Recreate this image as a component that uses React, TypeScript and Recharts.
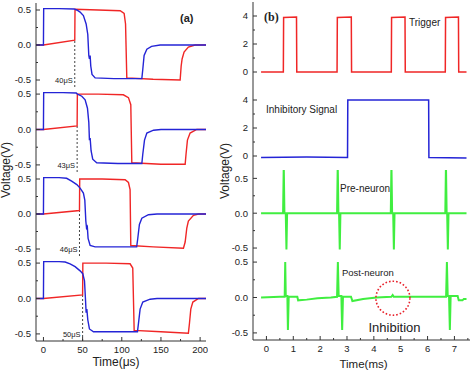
import React from 'react'
import { LineChart, Line, XAxis, YAxis, ReferenceLine, ReferenceDot } from 'recharts'

const FONT = '"Liberation Sans", Arial, Helvetica, sans-serif'
const AXIS = '#333'
const RED = '#f02626'
const BLUE = '#2424d6'
const GREEN = '#40ee40'

type P = [number, number]

// ---------- (a): time in µs, voltage in V ----------
const usMajor = [0, 50, 100, 150, 200]
const usMinor = [25, 75, 125, 175]
const aMajor = [-0.5, 0, 0.5]
const aMinor = [-0.25, 0.25]
const delays = [40, 43, 46, 50]

const blue40: P[] = [[-10, 0], [0, 0], [0.3, 0.52], [20, 0.52], [39, 0.515], [42.6, 0.5], [46.8, 0.47], [51, 0.42], [54.5, 0.3], [56.6, 0.15], [57.9, -0.15], [58.7, -0.2], [59.6, -0.15], [60.4, -0.3], [62, -0.42], [66, -0.47], [90, -0.48], [125.6, -0.48], [126.8, -0.35], [128.5, -0.15], [132, -0.06], [138, -0.02], [149, 0], [210, 0]]
const red40: P[] = [[-10, 0], [0, 0], [40, 0.07], [40.3, 0.51], [70, 0.5], [98, 0.49], [103, 0.45], [104.8, 0.3], [106.4, -0.47], [140, -0.49], [174.5, -0.5], [175.8, -0.3], [177, -0.2], [179.5, -0.1], [185, -0.03], [193.6, 0], [210, 0]]

const blue43: P[] = [[-10, 0], [0, 0], [0.3, 0.52], [25, 0.52], [41.8, 0.515], [43.4, 0.5], [49, 0.47], [53.2, 0.42], [56.2, 0.3], [57.9, 0.1], [58.7, -0.15], [59.6, -0.12], [60.8, -0.3], [62.9, -0.42], [68, -0.47], [95, -0.48], [125.6, -0.48], [126.8, -0.35], [129, -0.15], [132, -0.05], [140.5, -0.01], [150, 0], [210, 0]]
const red43: P[] = [[-10, 0], [0, 0], [43, 0.05], [43.3, 0.5], [70, 0.5], [102, 0.49], [108.5, 0.45], [111.5, 0.35], [112.8, -0.47], [150, -0.49], [180.9, -0.49], [182, -0.35], [183.8, -0.15], [187.2, -0.05], [195.7, 0], [210, 0]]

const blue46: P[] = [[-10, 0], [0, 0], [0.3, 0.52], [20, 0.52], [29.6, 0.51], [36, 0.47], [42.6, 0.42], [46.8, 0.37], [51, 0.3], [52.8, 0.2], [54.1, -0.1], [55, -0.2], [56, -0.18], [57, -0.35], [59.6, -0.45], [66, -0.47], [119, -0.47], [120.4, -0.35], [122.5, -0.15], [125.6, -0.06], [134, -0.01], [145, 0], [210, 0]]
const red46: P[] = [[-10, 0], [0, 0], [46, 0.05], [46.3, 0.5], [75, 0.5], [104.3, 0.49], [108.5, 0.45], [110.6, 0.35], [111.5, -0.45], [140, -0.47], [178.7, -0.49], [180.9, -0.4], [183, -0.2], [185, -0.1], [191.5, -0.02], [198, 0], [210, 0]]

const blue50: P[] = [[-10, 0], [0, 0], [0.3, 0.52], [20, 0.52], [27.7, 0.515], [34, 0.49], [40.4, 0.45], [46.8, 0.39], [50.2, 0.35], [52.4, 0.25], [53.6, 0], [54.5, -0.2], [55.4, -0.15], [56.6, -0.3], [58.7, -0.43], [63.9, -0.47], [120, -0.47], [121.3, -0.35], [123.4, -0.15], [126.8, -0.05], [136.2, -0.01], [145, 0], [210, 0]]
const red50: P[] = [[-10, 0], [0, 0], [50, 0.05], [50.3, 0.5], [80, 0.5], [110.6, 0.49], [114, 0.43], [115.8, -0.45], [150, -0.47], [185, -0.49], [186.4, -0.35], [188.1, -0.15], [190.7, -0.05], [198, 0], [210, 0]]

const blueA = [blue40, blue43, blue46, blue50]
const redA = [red40, red43, red46, red50]

// ---------- (b): time in ms ----------
const msMajor = [0, 1, 2, 3, 4, 5, 6, 7]
const msMinor = [0.5, 1.5, 2.5, 3.5, 4.5, 5.5, 6.5, 7.5]
const sigMajor = [0, 2, 4]
const sigMinor = [1, 3]
const spkMajor = [-0.5, 0, 0.5]
const spkMinor = [-0.25, 0.25]

const trigger: P[] = [[-0.2, 0], [0.63, 0], [0.64, 3.9], [1.12, 3.92], [1.13, 0], [2.63, 0], [2.64, 3.9], [3.16, 3.92], [3.17, 0], [4.65, 0], [4.66, 3.9], [5.16, 3.92], [5.17, 0], [6.66, 0], [6.67, 3.9], [7.15, 3.92], [7.16, 0], [7.45, 0]]
const inhibit: P[] = [[-0.2, -0.1], [1.5, -0.08], [3.02, -0.1], [3.03, 4.0], [6.04, 4.0], [6.05, -0.1], [7.45, -0.14]]
const preNeuron: P[] = [[-0.2, 0], [0.62, 0], [0.645, 0.7], [0.67, 0], [0.72, 0], [0.745, -0.52], [0.77, 0], [2.63, 0], [2.655, 0.7], [2.68, 0], [2.705, 0], [2.73, -0.52], [2.755, 0], [4.63, 0], [4.655, 0.7], [4.68, 0], [4.72, 0], [4.745, -0.52], [4.77, 0], [6.66, 0], [6.685, 0.7], [6.71, 0], [6.73, 0], [6.755, -0.52], [6.78, 0], [7.45, 0]]
const postNeuron: P[] = [[-0.2, 0], [0.5, 0.01], [0.68, 0.01], [0.7, 0.5], [0.72, 0.02], [0.78, 0.02], [0.8, -0.46], [0.83, 0.01], [1.15, 0.01], [1.18, -0.04], [1.5, -0.03], [1.9, -0.01], [2.4, 0], [2.63, 0.01], [2.66, 0.5], [2.69, 0.02], [2.79, 0.02], [2.82, -0.46], [2.85, 0.01], [3.15, 0.01], [3.2, -0.05], [3.6, -0.02], [4.1, 0], [4.65, 0.01], [4.7, 0.035], [4.74, 0.01], [6.69, 0.01], [6.72, 0.5], [6.75, 0.02], [6.8, 0.02], [6.83, -0.46], [6.86, 0.02], [7.12, 0.02], [7.16, -0.04], [7.3, -0.04], [7.35, -0.02], [7.45, -0.02]]

const pts = (a: P[]) => a.map(([t, v]) => ({ t, v }))

type Side = 'bottom' | 'top' | 'left' | 'right'

// inward ticks, long for majors, short for minors
const tickFn = (side: Side, major: number[], fmt?: (v: number) => string) => (p: any) => {
  const v = p.payload.value
  const isMajor = major.some((m) => Math.abs(m - v) < 1e-9)
  const len = isMajor ? 4 : 2
  const { x, y } = p
  let x2 = x, y2 = y
  if (side === 'bottom') y2 = y - len
  if (side === 'top') y2 = y + len
  if (side === 'left') x2 = x + len
  if (side === 'right') x2 = x - len
  return (
    <g>
      <line x1={x} y1={y} x2={x2} y2={y2} stroke={AXIS} strokeWidth={1} />
      {fmt && isMajor && side === 'bottom' && (
        <text x={x} y={y + 9} dy="0.35em" textAnchor="middle" fontSize={9.5} fontFamily={FONT} fill="#222">{fmt(v)}</text>
      )}
      {fmt && isMajor && side === 'left' && (
        <text x={x - 5} y={y} dy="0.35em" textAnchor="end" fontSize={9.5} fontFamily={FONT} fill="#222">{fmt(v)}</text>
      )}
    </g>
  )
}

type PanelProps = {
  box: [number, number, number, number]
  xDomain: [number, number]
  yDomain: [number, number]
  xMaj: number[]
  xMin: number[]
  yMaj: number[]
  yMin: number[]
  yFmt: (v: number) => string
  xLabels?: boolean
  yw: number
  children?: React.ReactNode
}

function Panel({ box, xDomain, yDomain, xMaj, xMin, yMaj, yMin, yFmt, xLabels, yw, children }: PanelProps) {
  const [x0, y0, x1, y1] = box
  const xh = xLabels ? 18 : 0
  const xt = [...xMaj, ...xMin]
  const yt = [...yMaj, ...yMin]
  return (
    <div style={{ position: 'absolute', left: x0 - yw, top: y0 - 2 }}>
      <LineChart width={yw + (x1 - x0) + 2} height={2 + (y1 - y0) + xh} margin={{ top: 2, right: 2, bottom: 0, left: 0 }}>
        <XAxis type="number" dataKey="t" domain={xDomain} allowDataOverflow ticks={xt} interval={0} height={xh}
          tickSize={0} tickMargin={0} tickLine={false} axisLine={{ stroke: AXIS }}
          tick={tickFn('bottom', xMaj, xLabels ? (v) => String(v) : undefined)} />
        <XAxis xAxisId="top" orientation="top" type="number" dataKey="t" domain={xDomain} allowDataOverflow ticks={xt} interval={0} height={0}
          tickSize={0} tickMargin={0} tickLine={false} axisLine={{ stroke: AXIS }} tick={tickFn('top', xMaj)} />
        <YAxis type="number" dataKey="v" domain={yDomain} allowDataOverflow ticks={yt} interval={0} width={yw}
          tickSize={0} tickMargin={0} tickLine={false} axisLine={{ stroke: AXIS }} tick={tickFn('left', yMaj, yFmt)} />
        <YAxis yAxisId="right" orientation="right" type="number" dataKey="v" domain={yDomain} allowDataOverflow ticks={yt} interval={0} width={0}
          tickSize={0} tickMargin={0} tickLine={false} axisLine={{ stroke: AXIS }} tick={tickFn('right', yMaj)} />
        {children}
      </LineChart>
    </div>
  )
}

const aBoxes: [number, number, number, number][] = [[36, 3, 206, 87], [36, 87, 206, 172], [36, 172, 206, 256], [36, 256, 206, 341]]
const bBoxes: [number, number, number, number][] = [[253, 2, 470, 86], [253, 86, 470, 170], [253, 170, 470, 255], [253, 255, 470, 340]]

const fmt1 = (v: number) => v.toFixed(1)
const fmt0 = (v: number) => String(v)

export default function App() {
  return (
    <div style={{ position: 'absolute', left: 0, top: 0, width: 474, height: 370, background: '#fff', overflow: 'hidden', fontFamily: FONT }}>
      {aBoxes.map((box, i) => (
        <Panel key={'a' + i} box={box} xDomain={[-9.5, 207.5]} yDomain={[-0.6, 0.6]} xMaj={usMajor} xMin={usMinor}
          yMaj={aMajor} yMin={aMinor} yFmt={fmt1} xLabels={i === 3} yw={36}>
          <ReferenceLine segment={[{ x: delays[i], y: -0.6 }, { x: delays[i], y: 0.06 }]} stroke="#444" strokeDasharray="2 2" strokeWidth={1} />
          <ReferenceDot x={delays[i]} y={-0.5} r={0} fill="none" stroke="none"
            label={{ value: `${delays[i]}\u03bcS`, position: 'left', offset: 2, fontSize: 7.5, fontFamily: FONT, fill: '#222' }} />
          <Line data={pts(redA[i])} dataKey="v" type="linear" stroke={RED} strokeWidth={1.4} dot={false} isAnimationActive={false} />
          <Line data={pts(blueA[i])} dataKey="v" type="linear" stroke={BLUE} strokeWidth={1.4} dot={false} isAnimationActive={false} />
        </Panel>
      ))}

      <Panel box={bBoxes[0]} xDomain={[-0.5, 7.58]} yDomain={[-1, 5]} xMaj={msMajor} xMin={msMinor} yMaj={sigMajor} yMin={sigMinor} yFmt={fmt0} yw={30}>
        <Line data={pts(trigger)} dataKey="v" type="linear" stroke={RED} strokeWidth={1.5} dot={false} isAnimationActive={false} />
      </Panel>
      <Panel box={bBoxes[1]} xDomain={[-0.5, 7.58]} yDomain={[-1, 5]} xMaj={msMajor} xMin={msMinor} yMaj={sigMajor} yMin={sigMinor} yFmt={fmt0} yw={30}>
        <Line data={pts(inhibit)} dataKey="v" type="linear" stroke={BLUE} strokeWidth={1.5} dot={false} isAnimationActive={false} />
      </Panel>
      <Panel box={bBoxes[2]} xDomain={[-0.5, 7.58]} yDomain={[-0.6, 0.62]} xMaj={msMajor} xMin={msMinor} yMaj={spkMajor} yMin={spkMinor} yFmt={fmt1} yw={30}>
        <Line data={pts(preNeuron)} dataKey="v" type="linear" stroke={GREEN} strokeWidth={2} dot={false} isAnimationActive={false} />
      </Panel>
      <Panel box={bBoxes[3]} xDomain={[-0.5, 7.58]} yDomain={[-0.6, 0.6]} xMaj={msMajor} xMin={msMinor} yMaj={spkMajor} yMin={spkMinor} yFmt={fmt1} xLabels yw={30}>
        <ReferenceDot x={4.71} y={-0.01} r={17} fill="none" stroke="#e8202a" strokeWidth={1.6} strokeDasharray="1.6 2" />
        <Line data={pts(postNeuron)} dataKey="v" type="linear" stroke={GREEN} strokeWidth={2} dot={false} isAnimationActive={false} />
      </Panel>

      <svg width={474} height={370} style={{ position: 'absolute', left: 0, top: 0, pointerEvents: 'none' }} fontFamily={FONT} fill="#222">
        <text x={180} y={22} fontSize={11} fontWeight="bold">(a)</text>
        <text x={264} y={20.5} fontSize={12} fontWeight="bold" fontFamily='"Liberation Serif", "Times New Roman", serif'>(b)</text>
        <text x={409} y={26.3} fontSize={10}>Trigger</text>
        <text x={266} y={113} fontSize={10}>Inhibitory Signal</text>
        <text x={340} y={191.7} fontSize={10}>Pre-neuron</text>
        <text x={342} y={276} fontSize={9.5}>Post-neuron</text>
        <text x={368.5} y={331.5} fontSize={13}>Inhibition</text>
        <text x={116} y={366} fontSize={12} textAnchor="middle">Time(&#956;s)</text>
        <text x={363.5} y={368} fontSize={11.5} textAnchor="middle">Time(ms)</text>
        <text transform="translate(10,170) rotate(-90)" fontSize={12} textAnchor="middle">Voltage(V)</text>
        <text transform="translate(228.5,171) rotate(-90)" fontSize={12} textAnchor="middle">Voltage(V)</text>
      </svg>
    </div>
  )
}
